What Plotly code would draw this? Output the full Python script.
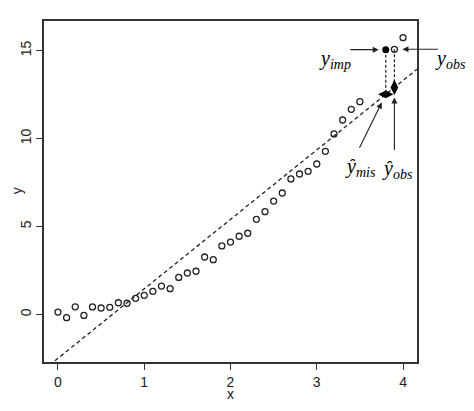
import plotly.graph_objects as go

# ---- data ----
x_obs = [0.0, 0.1, 0.2, 0.3, 0.4, 0.5, 0.6, 0.7, 0.8, 0.9,
         1.0, 1.1, 1.2, 1.3, 1.4, 1.5, 1.6, 1.7, 1.8, 1.9,
         2.0, 2.1, 2.2, 2.3, 2.4, 2.5, 2.6, 2.7, 2.8, 2.9,
         3.0, 3.1, 3.2, 3.3, 3.4, 3.5, 3.9, 4.0]
y_obs = [0.13, -0.19, 0.43, -0.06, 0.42, 0.36, 0.40, 0.66, 0.63, 0.91,
         1.08, 1.31, 1.61, 1.46, 2.10, 2.35, 2.45, 3.26, 3.11, 3.89,
         4.11, 4.44, 4.61, 5.40, 5.84, 6.44, 6.90, 7.70, 7.98, 8.13,
         8.55, 9.27, 10.26, 11.05, 11.66, 12.09, 15.07, 15.73]

x_imp = 3.8          # imputed (missing) case
y_imp = 15.05
x_donor = 3.9        # matched observed donor
y_donor = 15.07

fit_intercept = -2.5
fit_slope = 3.95

x_range = [-0.162, 4.162]
y_range = [-2.71, 16.68]
x_ticks = [0, 1, 2, 3, 4]
y_ticks = [0, 5, 10, 15]
x_title = "x"
y_title = "y"

yhat_mis = fit_intercept + fit_slope * x_imp
yhat_obs = fit_intercept + fit_slope * x_donor

INK = "#222222"
LINE = "#333333"
SANS = "Liberation Sans, Arial, sans-serif"

fig = go.Figure()

# regression line (abline, clipped to plot area)
fig.add_trace(go.Scatter(
    x=[x_range[0], x_range[1]],
    y=[fit_intercept + fit_slope * x_range[0], fit_intercept + fit_slope * x_range[1]],
    mode="lines", line=dict(color=INK, width=1.3, dash="4px,3px"),
    hoverinfo="skip", showlegend=False))

# vertical dashed connectors
fig.add_trace(go.Scatter(x=[x_imp, x_imp], y=[y_imp, yhat_mis], mode="lines",
                         line=dict(color=INK, width=1.2, dash="3px,2px"), showlegend=False))
fig.add_trace(go.Scatter(x=[x_donor, x_donor], y=[y_donor, yhat_obs], mode="lines",
                         line=dict(color=INK, width=1.2, dash="3px,2px"), showlegend=False))

# observed points
fig.add_trace(go.Scatter(
    x=x_obs, y=y_obs, mode="markers",
    marker=dict(symbol="circle-open", size=6, color=INK, line=dict(width=1.3, color=INK)),
    showlegend=False))

# imputed point
fig.add_trace(go.Scatter(x=[x_imp], y=[y_imp], mode="markers",
                         marker=dict(symbol="circle", size=7, color="black"), showlegend=False))

# predicted values
fig.add_trace(go.Scatter(x=[x_imp], y=[yhat_mis], mode="markers",
                         marker=dict(symbol="diamond-wide", size=11, color="black"), showlegend=False))
fig.add_trace(go.Scatter(x=[x_donor], y=[yhat_obs], mode="markers",
                         marker=dict(symbol="diamond-tall", size=11, color="black"), showlegend=False))

arrow = dict(showarrow=True, arrowhead=2, arrowsize=1.1, arrowwidth=1.1, arrowcolor=INK,
             axref="pixel", ayref="pixel", text="")
# arrows
fig.add_annotation(x=x_imp, y=y_imp, ax=-37, ay=0, standoff=7, **arrow)
fig.add_annotation(x=x_donor, y=y_donor, ax=45, ay=0, standoff=8, **arrow)
fig.add_annotation(x=x_imp, y=yhat_mis, ax=-27, ay=55, standoff=9, **arrow)
fig.add_annotation(x=x_donor, y=yhat_obs, ax=0, ay=64, standoff=10, **arrow)

lab_font = dict(family="Liberation Serif, Times New Roman, serif", size=20, color="black")
labels = [
    (x_imp, y_imp, "<i>y</i><sub><i>imp</i></sub>", -51, -10),
    (x_donor, y_donor, "<i>y</i><sub><i>obs</i></sub>", 56, -10),
    (x_imp, yhat_mis, "<i>ŷ</i><sub><i>mis</i></sub>", -25, -73),
    (x_donor, yhat_obs, "<i>ŷ</i><sub><i>obs</i></sub>", 3, -82),
]
for lx, ly, txt, dx, dy in labels:
    fig.add_annotation(x=lx, y=ly, text=txt, showarrow=False, xshift=dx, yshift=dy,
                       font=lab_font, xanchor="center", yanchor="middle")

# axis titles (placed as paper annotations for exact R-like positioning)
fig.add_annotation(x=0.5, y=-0.094, xref="paper", yref="paper", text=x_title,
                   showarrow=False, xanchor="center", yanchor="middle", borderpad=0,
                   font=dict(family=SANS, size=14, color=INK))
fig.add_annotation(x=-0.0724, y=0.504, xref="paper", yref="paper", text=y_title,
                   showarrow=False, xanchor="center", yanchor="middle", textangle=-90,
                   borderpad=0, font=dict(family=SANS, size=14, color=INK))

axis_common = dict(showline=True, linecolor=LINE, linewidth=1.5, mirror=True,
                   ticks="outside", ticklen=6, tickwidth=1.2, tickcolor=LINE,
                   showgrid=False, zeroline=False, automargin=False,
                   tickfont=dict(family=SANS, size=14, color=INK))

fig.update_xaxes(range=x_range, tickvals=x_ticks, **axis_common)
fig.update_yaxes(range=y_range, tickvals=y_ticks, tickangle=-90, **axis_common)

# page body has an 8px default margin, so the figure is sized/offset to compensate
fig.update_layout(width=458, height=395, margin=dict(l=36, r=49, t=13, b=41),
                  plot_bgcolor="white", paper_bgcolor="white", showlegend=False)

fig.write_html("out.html")
